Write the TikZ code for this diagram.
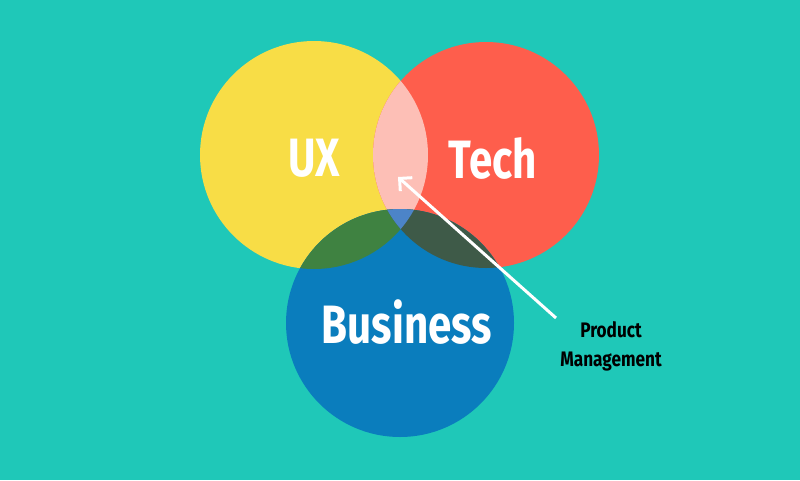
\documentclass[tikz,border=0pt]{standalone}
\usepackage{fontspec}
\setmainfont{Fira Sans}
\usetikzlibrary{arrows.meta}
\definecolor{bg}{HTML}{1FC8B8}
\definecolor{cyel}{HTML}{F8DD46}
\definecolor{cred}{HTML}{FE5E4C}
\definecolor{cblue}{HTML}{0A7DBD}
\definecolor{cpink}{HTML}{FDBFB6}
\definecolor{cgreen}{HTML}{3F8241}
\definecolor{cdark}{HTML}{3E5A48}
\definecolor{ctrip}{HTML}{4C84C8}
\tikzset{
  big/.style={text=white, font=\bfseries\fontsize{54}{60}\selectfont, xscale=0.78, transform shape, inner sep=0pt},
  small/.style={text=black, font=\bfseries\fontsize{21}{29}\selectfont, xscale=0.82, transform shape, align=center, inner sep=0pt}
}
\begin{document}
\begin{tikzpicture}[x=1pt,y=-1pt]
\fill[bg] (0,0) rectangle (800,480);
\useasboundingbox (0,0) rectangle (800,480);
\def\Y{(314,155) circle[radius=114]}
\def\R{(486,155) circle[radius=113]}
\def\B{(400,323) circle[radius=114]}
\fill[cyel] \Y;
\fill[cred] \R;
\fill[cblue] \B;
\begin{scope}\clip \Y; \fill[cpink] \R; \end{scope}
\begin{scope}\clip \Y; \fill[cgreen] \B; \end{scope}
\begin{scope}\clip \R; \fill[cdark] \B; \end{scope}
\begin{scope}\clip \Y; \clip \R; \fill[ctrip] \B; \end{scope}
\node[big] (ux) at (314,158) {UX};
\node[big] (tech) at (493,158) {Tech};
\node[big] (bus) at (407,322) {Business};
\node[small] (pm) at (611,346) {Product\\Management};
\coordinate (tail) at (556,318);
\coordinate (tip) at (398,177);
\draw[white, line width=3pt, -{Straight Barb[length=9pt,width=18pt,line width=3pt]}] (tail) -- (tip);
\end{tikzpicture}
\end{document}
